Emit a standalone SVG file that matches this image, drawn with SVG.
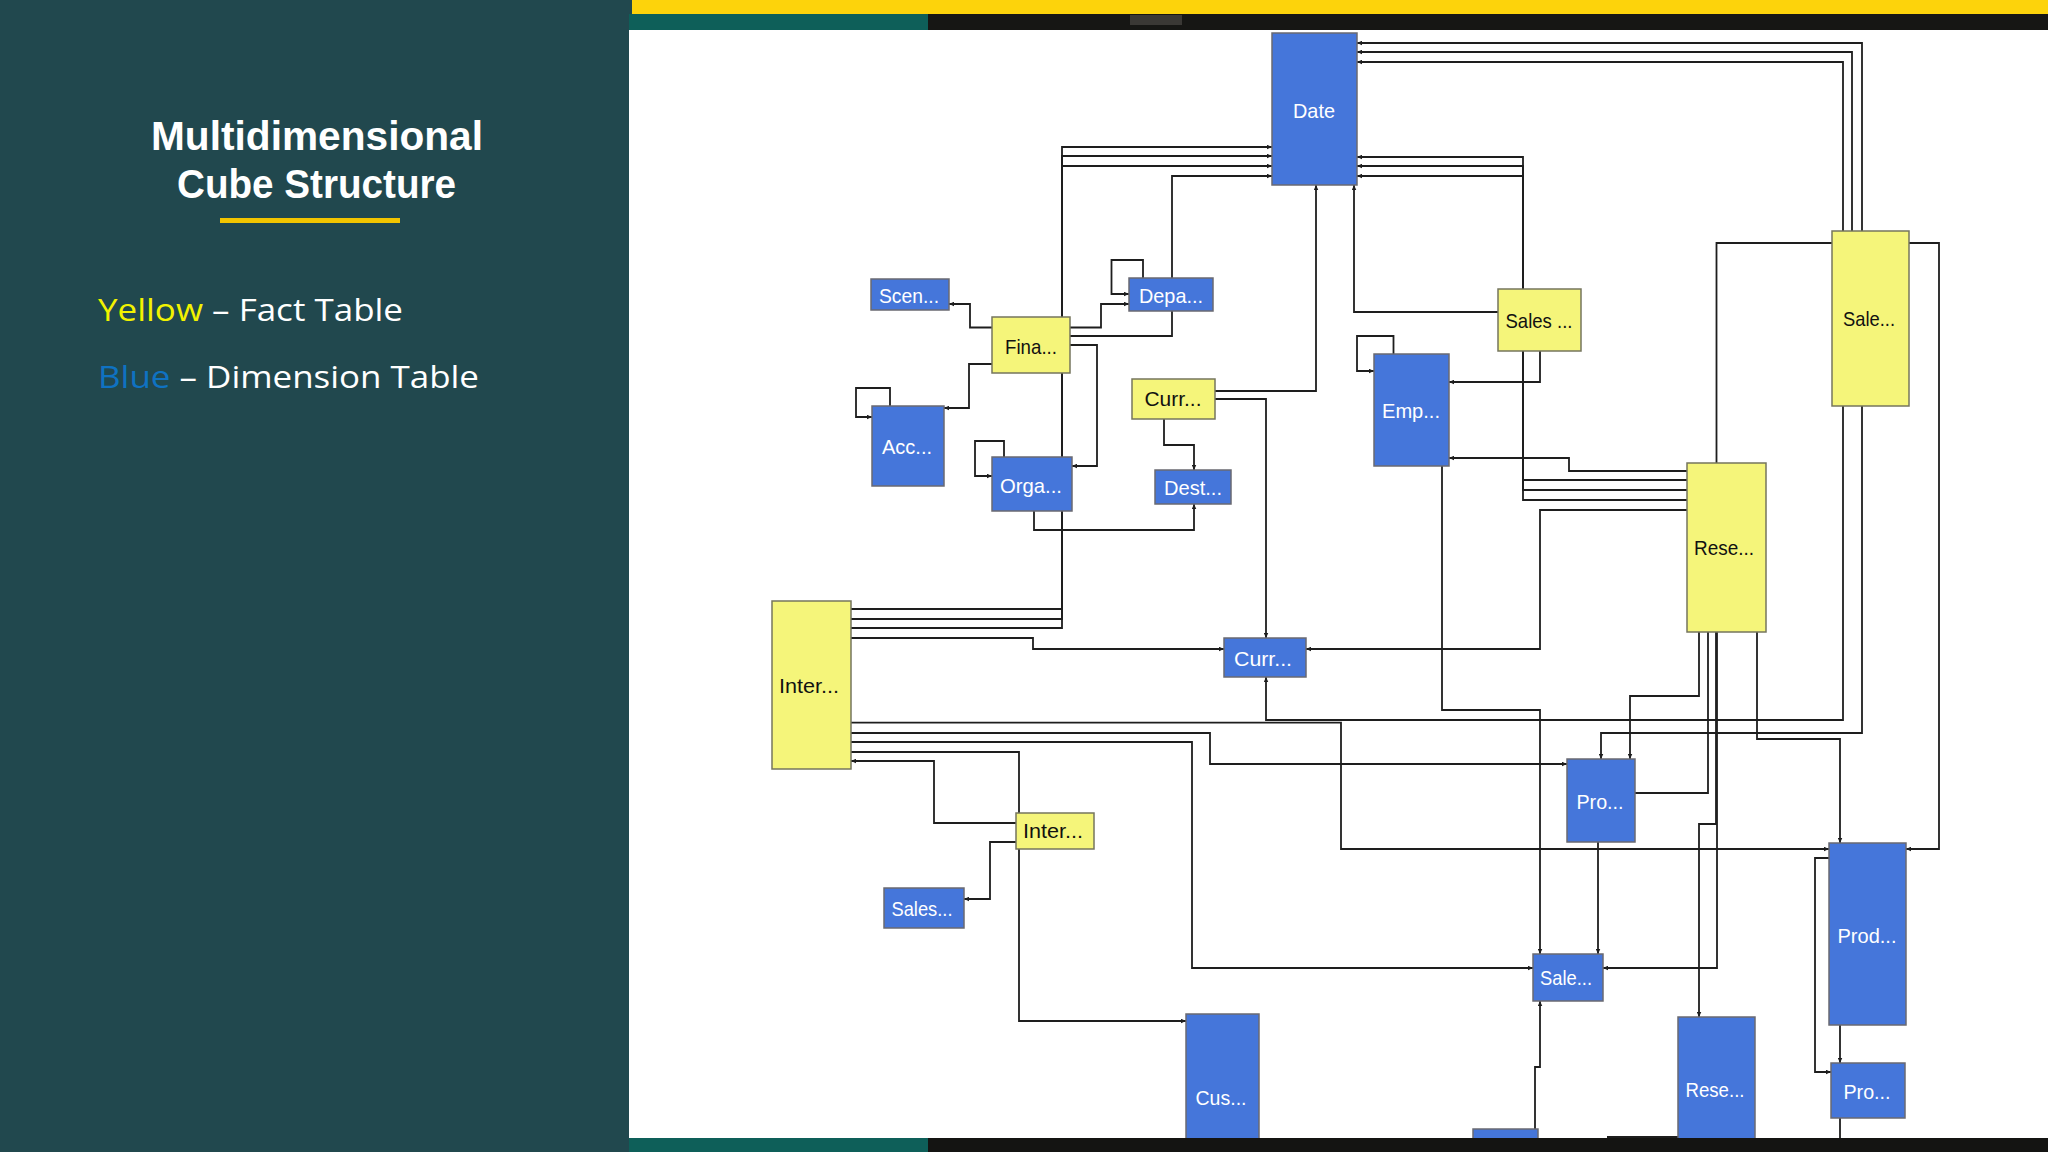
<svg xmlns="http://www.w3.org/2000/svg" width="2048" height="1152" viewBox="0 0 2048 1152">
<style>
.bg-panel{fill:#21484E}
.title{font-family:"Liberation Sans","Open Sans",sans-serif;font-weight:700;font-size:41px;fill:#FFFFFF}
.legend{font-family:"Open Sans","Liberation Sans",sans-serif;font-size:31px;fill:#FFFFFF}
.yl{fill:#F2F200}
.bl{fill:#0F72C2}
.conn{fill:none;stroke:#1E1E1E;stroke-width:1.8}
.dim{fill:#4576DA;stroke:#6A6A72;stroke-width:1.5}
.fact{fill:#F5F57A;stroke:#75755E;stroke-width:1.5}
.lbl{font-family:"Liberation Sans","DejaVu Sans",sans-serif;font-size:21px;text-anchor:middle}
.lw{fill:#FFFFFF}
.lk{fill:#111111}
</style>
<defs>
<marker id="arr" viewBox="0 0 6 6" refX="6" refY="3" markerWidth="5" markerHeight="5" markerUnits="userSpaceOnUse" orient="auto">
<path d="M0,0.3 L6,3 L0,5.7 z" fill="#1E1E1E"/>
</marker>
</defs>

<!-- background -->
<rect x="0" y="0" width="2048" height="1152" class="bg-panel"/>
<rect x="629" y="30" width="1419" height="1108" fill="#FFFFFF"/>
<rect x="632" y="0" width="1416" height="14" fill="#FDD30B"/>
<rect x="629" y="14" width="299" height="16" fill="#0E5F59"/>
<rect x="928" y="14" width="1120" height="16" fill="#161614"/>
<rect x="1130" y="15" width="52" height="10" fill="#3A3835"/>

<!-- left panel text -->
<g id="title">
<text class="title" x="151" y="150" textLength="332" lengthAdjust="spacingAndGlyphs">Multidimensional</text>
<text class="title" x="177" y="198" textLength="279" lengthAdjust="spacingAndGlyphs">Cube Structure</text>
<rect x="220" y="218" width="180" height="5" fill="#F2C500"/>
</g>
<g id="legend">
<text class="legend" x="98" y="321" textLength="305" lengthAdjust="spacingAndGlyphs"><tspan class="yl">Yellow</tspan> – Fact Table</text>
<text class="legend" x="98" y="388" textLength="381" lengthAdjust="spacingAndGlyphs"><tspan class="bl">Blue</tspan> – Dimension Table</text>
</g>

<!-- connectors -->
<g id="connectors">
<polyline class="conn" points="851,609 1062,609 1062,147 1272,147" marker-end="url(#arr)"/>
<polyline class="conn" points="851,619 1062,619 1062,156 1272,156" marker-end="url(#arr)"/>
<polyline class="conn" points="851,628 1062,628 1062,166 1272,166" marker-end="url(#arr)"/>
<polyline class="conn" points="1070,336 1172,336 1172,176 1272,176" marker-end="url(#arr)"/>
<polyline class="conn" points="1862,231 1862,43 1357,43" marker-end="url(#arr)"/>
<polyline class="conn" points="1852,231 1852,52 1357,52" marker-end="url(#arr)"/>
<polyline class="conn" points="1843,231 1843,62 1357,62" marker-end="url(#arr)"/>
<polyline class="conn" points="1687,480 1523,480 1523,157 1357,157" marker-end="url(#arr)"/>
<polyline class="conn" points="1687,490 1523,490 1523,166 1357,166" marker-end="url(#arr)"/>
<polyline class="conn" points="1687,500 1523,500 1523,176 1357,176" marker-end="url(#arr)"/>
<polyline class="conn" points="1215,391 1316,391 1316,185" marker-end="url(#arr)"/>
<polyline class="conn" points="1498,312 1354,312 1354,185" marker-end="url(#arr)"/>
<polyline class="conn" points="992,327.5 970,327.5 970,304 949,304" marker-end="url(#arr)"/>
<polyline class="conn" points="1070,327.5 1101,327.5 1101,304 1129,304" marker-end="url(#arr)"/>
<polyline class="conn" points="1070,345 1097,345 1097,466 1072,466" marker-end="url(#arr)"/>
<polyline class="conn" points="992,364 969,364 969,408 944,408" marker-end="url(#arr)"/>
<polyline class="conn" points="1143,278 1143,260 1111.5,260 1111.5,294 1129,294" marker-end="url(#arr)"/>
<polyline class="conn" points="890,406 890,388 856,388 856,417 872,417" marker-end="url(#arr)"/>
<polyline class="conn" points="1004,457 1004,441 975,441 975,476 992,476" marker-end="url(#arr)"/>
<polyline class="conn" points="1393.5,354 1393.5,336 1357,336 1357,371 1374,371" marker-end="url(#arr)"/>
<polyline class="conn" points="1034,511 1034,530 1194,530 1194,504" marker-end="url(#arr)"/>
<polyline class="conn" points="1164,419 1164,445 1194,445 1194,470" marker-end="url(#arr)"/>
<polyline class="conn" points="1215,399 1266,399 1266,638" marker-end="url(#arr)"/>
<polyline class="conn" points="1540,351 1540,382 1449,382" marker-end="url(#arr)"/>
<polyline class="conn" points="1687,471 1569,471 1569,458 1449,458" marker-end="url(#arr)"/>
<polyline class="conn" points="1687,510 1540,510 1540,649 1306,649" marker-end="url(#arr)"/>
<polyline class="conn" points="1716.5,463 1716.5,243 1832,243"/>
<polyline class="conn" points="1909,243 1939,243 1939,849 1906,849" marker-end="url(#arr)"/>
<polyline class="conn" points="851,638 1033,638 1033,649 1224,649" marker-end="url(#arr)"/>
<polyline class="conn" points="851,722.7 1341,722.7 1341,849 1829,849" marker-end="url(#arr)"/>
<polyline class="conn" points="1843,406 1843,720 1266,720 1266,677" marker-end="url(#arr)"/>
<polyline class="conn" points="1862,406 1862,733 1601,733 1601,759" marker-end="url(#arr)"/>
<polyline class="conn" points="851,733 1210,733 1210,764 1567,764" marker-end="url(#arr)"/>
<polyline class="conn" points="851,742 1192,742 1192,968 1533,968" marker-end="url(#arr)"/>
<polyline class="conn" points="851,752 1019,752 1019,1021 1186,1021" marker-end="url(#arr)"/>
<polyline class="conn" points="1016,823 934,823 934,761 851,761" marker-end="url(#arr)"/>
<polyline class="conn" points="1016,842 990,842 990,899 964,899" marker-end="url(#arr)"/>
<polyline class="conn" points="1442,466 1442,710 1540,710 1540,954" marker-end="url(#arr)"/>
<polyline class="conn" points="1699,632 1699,696 1630,696 1630,759" marker-end="url(#arr)"/>
<polyline class="conn" points="1708,632 1708,793 1635,793"/>
<polyline class="conn" points="1717,632 1717,968 1603,968" marker-end="url(#arr)"/>
<polyline class="conn" points="1716,632 1716,824 1699,824 1699,1017" marker-end="url(#arr)"/>
<polyline class="conn" points="1757,632 1757,739 1840,739 1840,843" marker-end="url(#arr)"/>
<polyline class="conn" points="1840,1025 1840,1063" marker-end="url(#arr)"/>
<polyline class="conn" points="1829,858 1815,858 1815,1072 1831,1072" marker-end="url(#arr)"/>
<polyline class="conn" points="1598,842 1598,954" marker-end="url(#arr)"/>
<polyline class="conn" points="1535,1129 1535,1067 1540,1067 1540,1001" marker-end="url(#arr)"/>
<polyline class="conn" points="1607,1137 1678,1137"/>
<polyline class="conn" points="1840,1118 1840,1138"/>
</g>

<!-- nodes -->
<g id="node-date"><rect class="dim" x="1272" y="33" width="85" height="152"/><text class="lbl lw" x="1314" y="118" textLength="42" lengthAdjust="spacingAndGlyphs">Date</text></g>
<g id="node-scen"><rect class="dim" x="871" y="279" width="78" height="31"/><text class="lbl lw" x="909" y="303" textLength="60" lengthAdjust="spacingAndGlyphs">Scen...</text></g>
<g id="node-depa"><rect class="dim" x="1129" y="278" width="84" height="33"/><text class="lbl lw" x="1171" y="303" textLength="64" lengthAdjust="spacingAndGlyphs">Depa...</text></g>
<g id="node-fina"><rect class="fact" x="992" y="317" width="78" height="56"/><text class="lbl lk" x="1031" y="354" textLength="52" lengthAdjust="spacingAndGlyphs">Fina...</text></g>
<g id="node-curr-top"><rect class="fact" x="1132" y="379" width="83" height="40"/><text class="lbl lk" x="1173" y="406" textLength="57" lengthAdjust="spacingAndGlyphs">Curr...</text></g>
<g id="node-acc"><rect class="dim" x="872" y="406" width="72" height="80"/><text class="lbl lw" x="907" y="454" textLength="50" lengthAdjust="spacingAndGlyphs">Acc...</text></g>
<g id="node-orga"><rect class="dim" x="992" y="457" width="80" height="54"/><text class="lbl lw" x="1031" y="493" textLength="62" lengthAdjust="spacingAndGlyphs">Orga...</text></g>
<g id="node-dest"><rect class="dim" x="1155" y="470" width="76" height="34"/><text class="lbl lw" x="1193" y="495" textLength="58" lengthAdjust="spacingAndGlyphs">Dest...</text></g>
<g id="node-sales-fact"><rect class="fact" x="1498" y="289" width="83" height="62"/><text class="lbl lk" x="1539" y="328" textLength="67" lengthAdjust="spacingAndGlyphs">Sales ...</text></g>
<g id="node-emp"><rect class="dim" x="1374" y="354" width="75" height="112"/><text class="lbl lw" x="1411" y="418" textLength="58" lengthAdjust="spacingAndGlyphs">Emp...</text></g>
<g id="node-sale-fact"><rect class="fact" x="1832" y="231" width="77" height="175"/><text class="lbl lk" x="1869" y="326" textLength="52" lengthAdjust="spacingAndGlyphs">Sale...</text></g>
<g id="node-rese-fact"><rect class="fact" x="1687" y="463" width="79" height="169"/><text class="lbl lk" x="1724" y="555" textLength="60" lengthAdjust="spacingAndGlyphs">Rese...</text></g>
<g id="node-inter-fact"><rect class="fact" x="772" y="601" width="79" height="168"/><text class="lbl lk" x="809" y="693" textLength="60" lengthAdjust="spacingAndGlyphs">Inter...</text></g>
<g id="node-curr-low"><rect class="dim" x="1224" y="638" width="82" height="39"/><text class="lbl lw" x="1263" y="666" textLength="58" lengthAdjust="spacingAndGlyphs">Curr...</text></g>
<g id="node-inter-small"><rect class="fact" x="1016" y="813" width="78" height="36"/><text class="lbl lk" x="1053" y="838" textLength="60" lengthAdjust="spacingAndGlyphs">Inter...</text></g>
<g id="node-pro-mid"><rect class="dim" x="1567" y="759" width="68" height="83"/><text class="lbl lw" x="1600" y="809" textLength="47" lengthAdjust="spacingAndGlyphs">Pro...</text></g>
<g id="node-sales-small"><rect class="dim" x="884" y="888" width="80" height="40"/><text class="lbl lw" x="922" y="916" textLength="61" lengthAdjust="spacingAndGlyphs">Sales...</text></g>
<g id="node-cus"><rect class="dim" x="1186" y="1014" width="73" height="136"/><text class="lbl lw" x="1221" y="1105" textLength="51" lengthAdjust="spacingAndGlyphs">Cus...</text></g>
<g id="node-sale-low"><rect class="dim" x="1533" y="954" width="70" height="47"/><text class="lbl lw" x="1566" y="985" textLength="52" lengthAdjust="spacingAndGlyphs">Sale...</text></g>
<g id="node-rese-low"><rect class="dim" x="1678" y="1017" width="77" height="133"/><text class="lbl lw" x="1715" y="1097" textLength="59" lengthAdjust="spacingAndGlyphs">Rese...</text></g>
<g id="node-prod"><rect class="dim" x="1829" y="843" width="77" height="182"/><text class="lbl lw" x="1867" y="943" textLength="59" lengthAdjust="spacingAndGlyphs">Prod...</text></g>
<g id="node-pro-small"><rect class="dim" x="1831" y="1063" width="74" height="55"/><text class="lbl lw" x="1867" y="1099" textLength="47" lengthAdjust="spacingAndGlyphs">Pro...</text></g>
<g id="node-bottom-partial"><rect class="dim" x="1473" y="1129" width="65" height="20"/></g>

<!-- bottom band over clipped nodes -->
<rect x="629" y="1138" width="299" height="14" fill="#0E5F59"/>
<rect x="928" y="1138" width="1120" height="14" fill="#141412"/>
</svg>
